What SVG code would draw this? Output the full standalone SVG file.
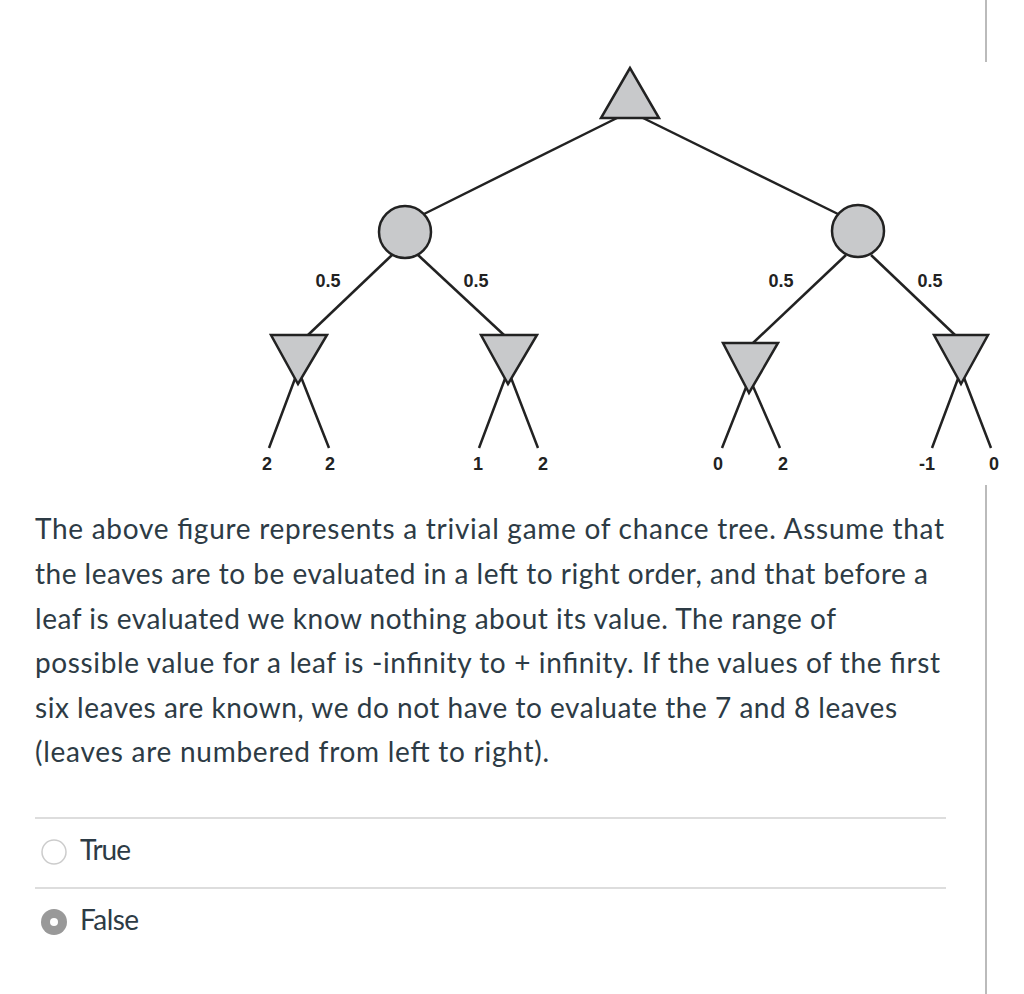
<svg xmlns="http://www.w3.org/2000/svg" width="1024" height="994" viewBox="0 0 1024 994">
<style>
.n{fill:#c8c9cb;stroke:#222;stroke-width:2.5}
.e{stroke:#222;stroke-width:2.5;fill:none}
.l{font-family:"Liberation Sans",Arial,sans-serif;font-weight:bold;font-size:18px;fill:#222;text-anchor:middle}
.t{font-family:Lato,"Liberation Sans",sans-serif;font-size:28px;fill:#2d3b45}
</style>
<rect width="1024" height="994" fill="#fff"/>
<line x1="986" y1="0" x2="986" y2="62" stroke="#bbb" stroke-width="2"/>
<line x1="986" y1="485" x2="986" y2="994" stroke="#bbb" stroke-width="2"/>
<g id="connectors">
<line class="e" x1="617" y1="118" x2="424" y2="214"/>
<line class="e" x1="643" y1="118" x2="838" y2="214"/>
<line class="e" x1="392" y1="255" x2="308" y2="335"/>
<line class="e" x1="418" y1="255" x2="504" y2="335"/>
<line class="e" x1="846" y1="255" x2="753" y2="343"/>
<line class="e" x1="871" y1="255" x2="955" y2="335"/>
<path class="e" d="M269 448L308 344M329 448L288 344"/>
<path class="e" d="M479 448L518 344M538 448L498 344"/>
<path class="e" d="M722 448L760 352M780 448L738 352"/>
<path class="e" d="M932 448L971 344M991 448L951 344"/>
</g>
<g id="root"><polygon class="n" points="630,68 601,118 659,118"/></g>
<g id="c1"><circle class="n" cx="405" cy="232" r="26"/></g>
<g id="c2"><circle class="n" cx="858" cy="231" r="26"/></g>
<g id="m1"><polygon class="n" points="271,335 327,335 298,384"/></g>
<g id="m2"><polygon class="n" points="481,335 537,335 508,384"/></g>
<g id="m3"><polygon class="n" points="723,343 778,343 749,393"/></g>
<g id="m4"><polygon class="n" points="934,335 988,335 961,384"/></g>
<g id="labels">
<text class="l" x="328" y="287">0.5</text><text class="l" x="476" y="287">0.5</text>
<text class="l" x="781" y="287">0.5</text><text class="l" x="930" y="287">0.5</text>
<text class="l" x="267" y="470">2</text><text class="l" x="330" y="470">2</text>
<text class="l" x="478" y="470">1</text><text class="l" x="543" y="470">2</text>
<text class="l" x="718" y="470">0</text><text class="l" x="783" y="470">2</text>
<text class="l" x="927" y="470">-1</text><text class="l" x="994" y="470">0</text>
</g>
<g id="question" class="t">
<text x="35" y="539" textLength="909">The above figure represents a trivial game of chance tree.  Assume that</text>
<text x="35" y="584" textLength="893">the leaves are to be evaluated in a left to right order, and that before a</text>
<text x="35" y="629" textLength="801">leaf is evaluated we know nothing about its value. The range of</text>
<text x="35" y="673" textLength="905">possible value for a leaf is -infinity to + infinity.   If the values of the first</text>
<text x="35" y="718" textLength="862">six leaves are known, we do not have to evaluate the 7 and 8  leaves</text>
<text x="35" y="762" textLength="514">(leaves are numbered from left to right).</text>
</g>
<line x1="35" y1="818" x2="946" y2="818" stroke="#ddd" stroke-width="2"/>
<line x1="35" y1="888" x2="946" y2="888" stroke="#ddd" stroke-width="2"/>
<g id="optTrue"><circle cx="54" cy="852" r="12" fill="#fff" stroke="#ccc" stroke-width="1.5"/>
<text class="t" x="80" y="860" font-size="24" textLength="51">True</text></g>
<g id="optFalse"><circle cx="54" cy="922" r="13" fill="#999"/><circle cx="54" cy="922" r="4" fill="#fff"/>
<text class="t" x="80" y="930" font-size="24" textLength="59">False</text></g>
</svg>
